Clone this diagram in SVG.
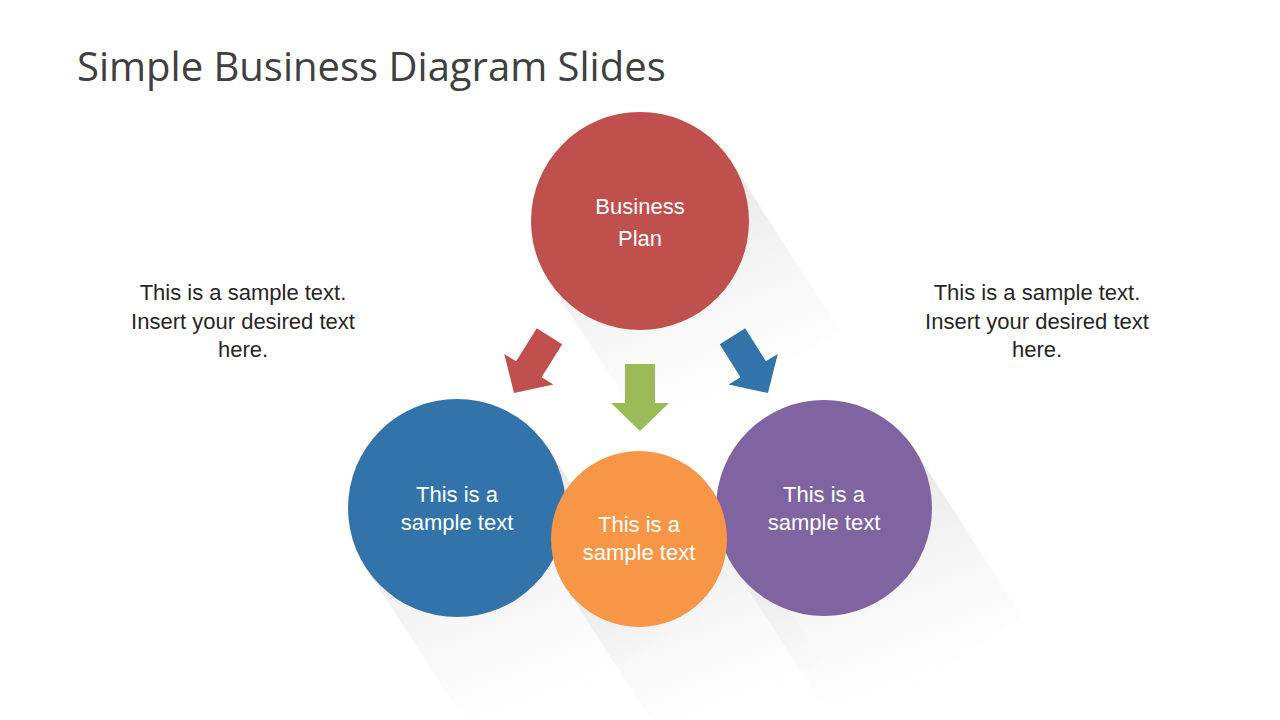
<svg xmlns="http://www.w3.org/2000/svg" width="1280" height="720" viewBox="0 0 1280 720">
<defs>
<linearGradient id="sh" x1="0.3" y1="0" x2="0.7" y2="1">
<stop offset="0" stop-color="#cfcfcf" stop-opacity="0.7"/>
<stop offset="1" stop-color="#ffffff" stop-opacity="0"/>
</linearGradient>
<path id="arr" d="M-15,-67 H15 V-28 H29 L0,0 L-29,-28 H-15 Z"/>
</defs>
<style>
.lbl{font-family:"Liberation Sans",Arial,sans-serif;font-size:22px;fill:#fff;text-anchor:middle}
.side{font-family:"Liberation Sans",Arial,sans-serif;font-size:22px;fill:#262626;text-anchor:middle}
.sh{fill:url(#sh)}
</style>
<rect width="1280" height="720" fill="#fff"/>
<text x="77" y="81" font-family="Open Sans,Liberation Sans,sans-serif" font-size="40" fill="#404040">Simple Business Diagram Slides</text>
<g id="shadows">
<polygon class="sh" points="731.6,162.1 839.6,330.1 656.4,447.9 548.4,279.9"/>
<polygon class="sh" points="548.6,449.1 667.4,633.9 484.2,751.7 365.4,566.9"/>
<polygon class="sh" points="712.9,491.5 820.9,659.5 673.1,754.5 565.1,586.5"/>
<polygon class="sh" points="914.7,449.7 1022.7,617.7 841.3,734.3 733.3,566.3"/>
</g>
<g id="connectors">
<use href="#arr" fill="#c0504d" transform="translate(514,393) rotate(32)"/>
<use href="#arr" fill="#9bbb59" transform="translate(640,431)"/>
<use href="#arr" fill="#3274a9" transform="translate(768,393) rotate(-32)"/>
</g>
<g id="top"><circle cx="640" cy="221" r="109" fill="#c0504d"/>
<text class="lbl" x="640" y="214">Business</text><text class="lbl" x="640" y="246">Plan</text></g>
<g id="left"><circle cx="457" cy="508" r="109" fill="#3274a9"/>
<text class="lbl" x="457" y="502">This is a</text><text class="lbl" x="457" y="530">sample text</text></g>
<g id="right"><circle cx="824" cy="508" r="108" fill="#8064a2"/>
<text class="lbl" x="824" y="502">This is a</text><text class="lbl" x="824" y="530">sample text</text></g>
<g id="center"><circle cx="639" cy="539" r="88" fill="#f79646"/>
<text class="lbl" x="639" y="532">This is a</text><text class="lbl" x="639" y="560">sample text</text></g>
<g id="leftText"><text class="side" x="243" y="300">This is a sample text.</text><text class="side" x="243" y="329">Insert your desired text</text><text class="side" x="243" y="357">here.</text></g>
<g id="rightText"><text class="side" x="1037" y="300">This is a sample text.</text><text class="side" x="1037" y="329">Insert your desired text</text><text class="side" x="1037" y="357">here.</text></g>
</svg>
